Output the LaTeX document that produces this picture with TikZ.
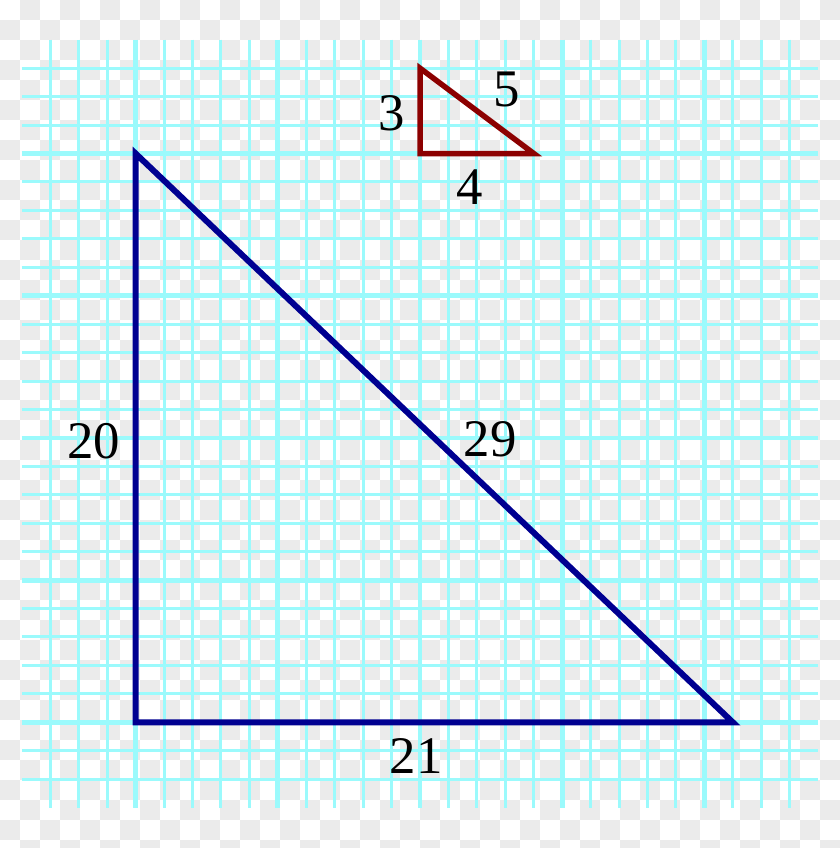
\documentclass[tikz,border=0pt]{standalone}
\usepackage{fontspec}
\setmainfont{Liberation Serif}
\definecolor{checkgray}{RGB}{235,235,235}
\definecolor{gridcyan}{RGB}{155,250,252}
\definecolor{bigblue}{RGB}{0,0,145}
\definecolor{smallred}{RGB}{140,0,0}
\tikzset{
  minorline/.style={gridcyan, line width=3bp},
  majorline/.style={gridcyan, line width=4.8bp},
  bigtri/.style={bigblue, line width=6bp, line join=miter},
  smalltri/.style={smallred, line width=5.5bp, line join=miter},
  lbl/.style={anchor=base, inner sep=0pt, font=\fontsize{53}{60}\selectfont}
}
\begin{document}
\begin{tikzpicture}[x=1bp,y=-1bp]
\useasboundingbox (0,0) rectangle (840,848);
\fill[white] (0,0) rectangle (840,848);
% checkerboard
\foreach \i in {0,...,41} {
  \foreach \j in {0,...,42} {
    \pgfmathtruncatemacro\p{mod(\i+\j,2)}
    \ifnum\p=1 \fill[checkgray] (\i*20,\j*20) rectangle ++(20,20); \fi
  }
}
\def\ox{135.6}
\def\oy{722.3}
\def\u{28.44}
% vertical grid lines
\foreach \k in {-3,...,23} {
  \pgfmathtruncatemacro\m{mod(\k+10,5)}
  \ifnum\m=0
    \draw[majorline] ({\ox+\k*\u},{\oy-24*\u}) -- ({\ox+\k*\u},{\oy+3*\u});
  \else
    \draw[minorline] ({\ox+\k*\u},{\oy-24*\u}) -- ({\ox+\k*\u},{\oy+3*\u});
  \fi
}
% horizontal grid lines
\foreach \k in {-2,...,23} {
  \pgfmathtruncatemacro\m{mod(\k+10,5)}
  \ifnum\m=0
    \draw[majorline] ({\ox-4*\u},{\oy-\k*\u}) -- ({\ox+24*\u},{\oy-\k*\u});
  \else
    \draw[minorline] ({\ox-4*\u},{\oy-\k*\u}) -- ({\ox+24*\u},{\oy-\k*\u});
  \fi
}
% big triangle
\coordinate (A) at (\ox,{\oy-20*\u});
\coordinate (B) at (\ox,\oy);
\coordinate (C) at ({\ox+21*\u},\oy);
\draw[bigtri] (A) -- (B) -- (C) -- cycle;
% small triangle
\coordinate (P) at ({\ox+10*\u},{\oy-23*\u});
\coordinate (Q) at ({\ox+10*\u},{\oy-20*\u});
\coordinate (R) at ({\ox+14*\u},{\oy-20*\u});
\draw[smalltri] (P) -- (Q) -- (R) -- cycle;
% labels
\node[lbl] (l20) at (93.5,458) {20};
\node[lbl] (l29) at (490,456) {29};
\node[lbl] (l21) at (416,773) {21};
\node[lbl] (l3) at (392,130) {3};
\node[lbl] (l5) at (506.5,106) {5};
\node[lbl] (l4) at (470,204) {4};
\end{tikzpicture}
\end{document}
